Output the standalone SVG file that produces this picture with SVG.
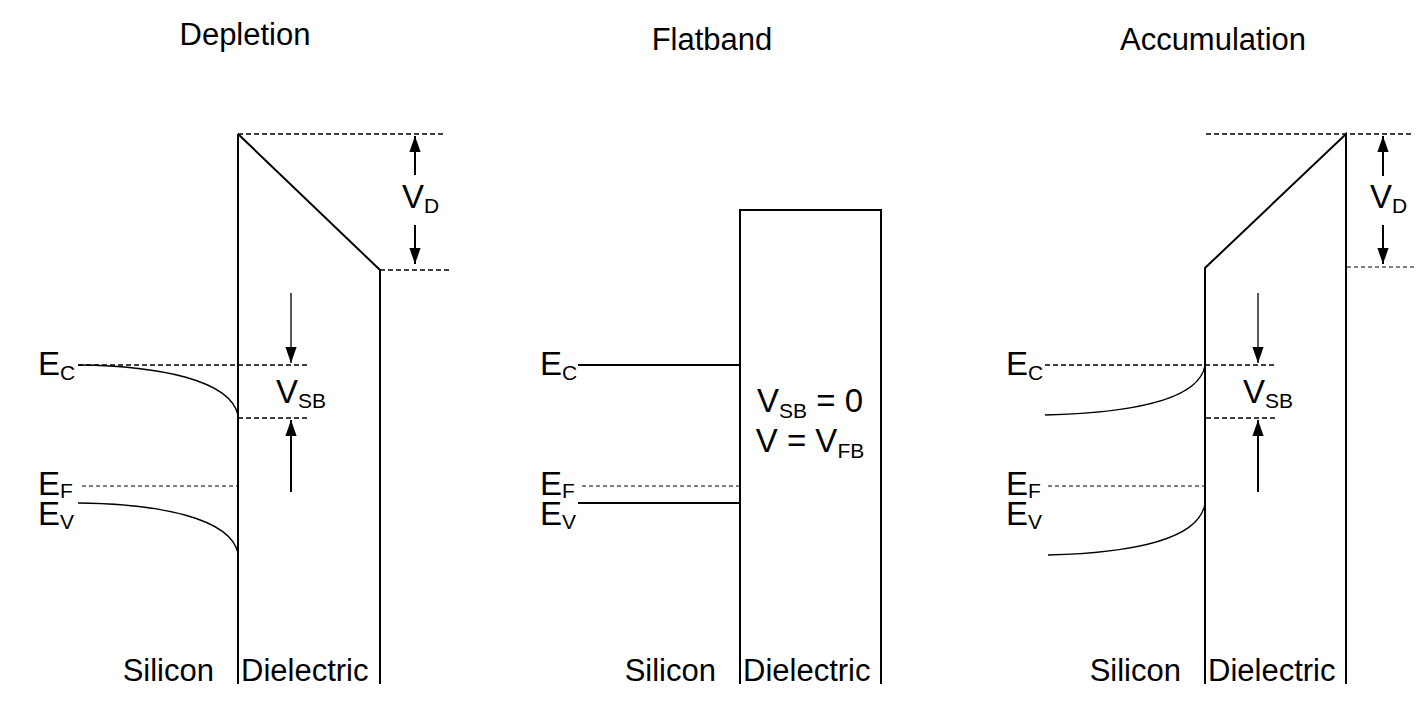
<svg xmlns="http://www.w3.org/2000/svg" width="1422" height="704" viewBox="0 0 1422 704">
<style>
text{font-family:"Liberation Sans",Arial,sans-serif;font-size:31px;fill:#000}
.L{font-size:33px}
.s{fill:none;stroke:#000;stroke-width:2}
.t{fill:none;stroke:#000;stroke-width:1.3}
.d{fill:none;stroke:#000;stroke-width:1.5;stroke-dasharray:5,3}
.f{fill:none;stroke:#000;stroke-width:1;stroke-dasharray:4,3}
.sub{font-size:21px}
</style>
<defs>
<marker id="b" viewBox="0 0 10 10" refX="10" refY="5" markerWidth="16" markerHeight="16" orient="auto" markerUnits="userSpaceOnUse"><path d="M0,1.5L10,5L0,8.5z"/></marker>
</defs>
<g id="depletion">
<text x="245" y="45" text-anchor="middle">Depletion</text>
<path class="s" d="M238,134V684M238,134L380,270V684"/>
<path class="d" d="M238,134H443M380,270H450"/>
<path class="s" d="M415,175V136" marker-end="url(#b)"/>
<path class="s" d="M415,225V264" marker-end="url(#b)"/>
<text class="L" x="402" y="208">V<tspan class="sub" dy="5">D</tspan></text>
<path class="d" d="M78,365H307M238,418H307"/>
<path class="f" d="M82,486H238"/>
<path class="t" d="M78,365C160,366 230,380 238,415M78,503C160,504 230,518 238,553"/>
<path class="t" d="M291,293V363" marker-end="url(#b)"/>
<path class="s" d="M291,492V420" marker-end="url(#b)"/>
<text class="L" x="276" y="403">V<tspan class="sub" dy="5">SB</tspan></text>
<text class="L" x="38" y="375">E<tspan class="sub" dy="5">C</tspan></text>
<text class="L" x="38" y="495">E<tspan class="sub" dy="3">F</tspan></text>
<text class="L" x="38" y="525">E<tspan class="sub" dy="4">V</tspan></text>
<text x="214" y="681" text-anchor="end">Silicon</text>
<text x="241" y="681">Dielectric</text>
</g>
<g id="flatband">
<text x="712" y="50" text-anchor="middle">Flatband</text>
<path class="s" d="M740,684V210H881V684"/>
<path class="s" d="M578,365H740M578,503H740"/>
<path class="f" d="M582,486H740"/>
<text class="L" x="810" y="412" text-anchor="middle">V<tspan class="sub" dy="6">SB</tspan><tspan dy="-6"> = 0</tspan></text>
<text class="L" x="810" y="452" text-anchor="middle">V = V<tspan class="sub" dy="6">FB</tspan></text>
<text class="L" x="540" y="375">E<tspan class="sub" dy="5">C</tspan></text>
<text class="L" x="540" y="495">E<tspan class="sub" dy="3">F</tspan></text>
<text class="L" x="540" y="525">E<tspan class="sub" dy="4">V</tspan></text>
<text x="716" y="681" text-anchor="end">Silicon</text>
<text x="743" y="681">Dielectric</text>
</g>
<g id="accumulation">
<text x="1213" y="50" text-anchor="middle">Accumulation</text>
<path class="s" d="M1205,684V268L1346,134V684"/>
<path class="d" d="M1206,134H1414"/>
<path class="f" d="M1347,267H1414"/>
<path class="s" d="M1383,176V136" marker-end="url(#b)"/>
<path class="s" d="M1383,225V264" marker-end="url(#b)"/>
<text class="L" x="1370" y="208">V<tspan class="sub" dy="5">D</tspan></text>
<path class="d" d="M1045,365H1275M1206,418H1275"/>
<path class="f" d="M1048,486H1205"/>
<path class="t" d="M1045,415C1130,413 1200,400 1205,365M1048,555C1130,553 1200,540 1205,503"/>
<path class="t" d="M1258,293V363" marker-end="url(#b)"/>
<path class="s" d="M1258,492V420" marker-end="url(#b)"/>
<text class="L" x="1243" y="403">V<tspan class="sub" dy="5">SB</tspan></text>
<text class="L" x="1006" y="375">E<tspan class="sub" dy="5">C</tspan></text>
<text class="L" x="1006" y="495">E<tspan class="sub" dy="3">F</tspan></text>
<text class="L" x="1006" y="525">E<tspan class="sub" dy="4">V</tspan></text>
<text x="1181" y="681" text-anchor="end">Silicon</text>
<text x="1208" y="681">Dielectric</text>
</g>
</svg>
